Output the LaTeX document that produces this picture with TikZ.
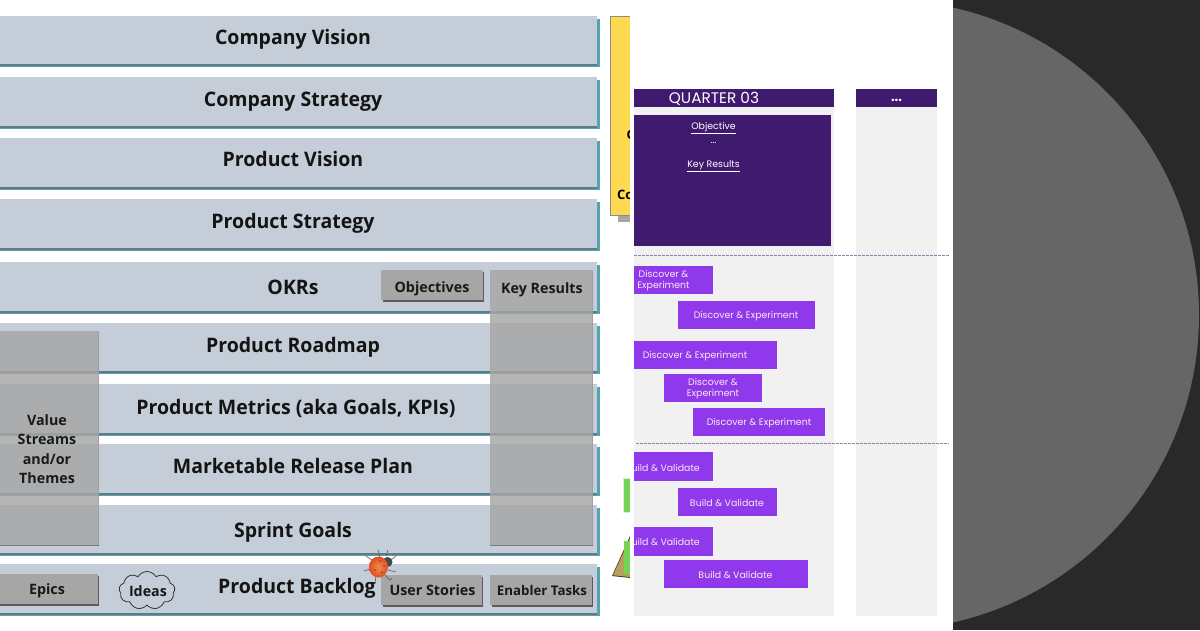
\documentclass[tikz,border=0pt]{standalone}
\usepackage{fontspec}
\setmainfont{Open Sans}
\newfontfamily\barfont[FakeStretch=0.975]{Open Sans}
\newfontfamily\panelfont{Poppins}
\usetikzlibrary{shapes.symbols}
\definecolor{barfill}{HTML}{C5CED8}
\definecolor{barteal}{HTML}{55A3AE}
\definecolor{bardark}{HTML}{5F7C86}
\definecolor{greybox}{HTML}{A6A6A6}
\definecolor{greyshadow}{HTML}{5C5C5C}
\definecolor{darkpurple}{HTML}{3F1A6E}
\definecolor{brightpurple}{HTML}{9038EC}
\definecolor{panelgrey}{HTML}{F1F1F2}
\definecolor{stickyyellow}{HTML}{FFD94F}
\definecolor{greenbar}{HTML}{74D354}
\definecolor{tan}{HTML}{B59E5E}
\definecolor{bugred}{HTML}{E04E22}
\definecolor{bugorange}{HTML}{F58A45}
\tikzset{
  block/.style={inner sep=0pt,outer sep=0pt,draw=none},
  bartext/.style={font=\barfont\bfseries\fontsize{20}{24}\selectfont,text=black!92,inner sep=0pt,anchor=base},
  greytext/.style={font=\bfseries\fontsize{14.3}{19.3}\selectfont,text=black!90,inner sep=0pt,align=center},
  greylabel/.style={greytext,anchor=base},
  purpletext/.style={font=\panelfont\fontsize{9.4}{11}\selectfont,text=white!92!purple,inner sep=0pt,align=center},
  headtext/.style={font=\panelfont\fontsize{15.3}{17}\selectfont,text=white,inner sep=0pt},
  objtext/.style={font=\panelfont\fontsize{9.4}{11}\selectfont,text=white,inner sep=0pt},
  dashline/.style={draw=darkpurple!55,line width=0.5pt,dash pattern=on 2.5pt off 1.5pt},
  leg/.style={draw=black!60,line width=0.7pt,line cap=round}
}
% name, x1, y1, x2, y2, style
\newcommand{\rectnode}[6]{\node[block,#6,minimum width={(#4-#2)*1pt},minimum height={(#5-#3)*1pt}] (#1) at ({(#2+#4)/2},{(#3+#5)/2}) {};}
% name, top, bottom
\newcommand{\barrow}[3]{%
  \fill[barteal] (0,#3) rectangle (600,#3+3);
  \fill[barteal] (597,#2+3) rectangle (600,#3+3);
  \fill[bardark] (0,#3) rectangle (597,#3+1.5);
  \rectnode{#1}{0}{#2}{597}{#3}{fill=barfill}
}
% name, x1,y1,x2,y2
\newcommand{\greyshadowbox}[5]{%
  \fill[greyshadow] (#2+2,#3+2) rectangle (#4+1,#5+1.5);
  \rectnode{#1}{#2}{#3}{#4}{#5}{fill=greybox}
}
\begin{document}
\begin{tikzpicture}[x=1pt,y=-1pt]
\useasboundingbox (0,0) rectangle (1200,630);
\fill[white] (0,0) rectangle (1200,630);
% right dark region with big circle
\fill[black!84] (953,0) rectangle (1200,630);
\begin{scope}
  \clip (953,0) rectangle (1200,630);
  \fill[black!60] (884,315) circle[radius=315];
\end{scope}
% strips
\barrow{b1}{16}{64}
\barrow{b2}{77}{126}
\barrow{b3}{138}{187}
\barrow{b4}{199}{248}
\barrow{b5}{262}{311}
\barrow{b6}{323}{371}
\barrow{b7}{384}{433}
\barrow{b8}{444}{493}
\barrow{b9}{505}{553}
\barrow{b10}{564}{613}
\node[bartext] (t1) at (293,44.5) {Company Vision};
\node[bartext] (t2) at (293,106) {Company Strategy};
\node[bartext] (t3) at (293,166) {Product Vision};
\node[bartext] (t4) at (293,228) {Product Strategy};
\node[bartext] (t5) at (293,294.5) {OKRs};
\node[bartext] (t6) at (293,352.5) {Product Roadmap};
\node[bartext] (t7) at (296,414) {Product Metrics (aka Goals, KPIs)};
\node[bartext] (t8) at (293,473.5) {Marketable Release Plan};
\node[bartext] (t9) at (293,537) {Sprint Goals};
\node[bartext] (t10) at (297,593.7) {Product Backlog};
% grey boxes
\greyshadowbox{obj}{381}{270}{483}{300}
\node[greylabel] (objt) at (432,292) {Objectives};
\fill[greyshadow] (0,604) rectangle (3,605.5);
\greyshadowbox{epics}{0}{574}{98}{604}
\node[greylabel] (epicst) at (47,594.3) {Epics};
\greyshadowbox{stories}{381}{575}{482}{605}
\node[greylabel] (storiest) at (432.5,595.7) {User Stories};
\greyshadowbox{enabler}{490}{575}{592}{605}
\node[greylabel,font=\bfseries\fontsize{13.3}{16}\selectfont] (enablert) at (542,595.7) {Enabler Tasks};
% translucent columns
\fill[greyshadow,opacity=.7] (98,331) rectangle (99.2,545.8);
\fill[greyshadow,opacity=.7] (0,545) rectangle (99.2,545.8);
\rectnode{vs}{0}{331}{98.5}{545}{fill=greybox,fill opacity=.83}
\node[greytext] (vst) at (47,449) {Value\\Streams\\and/or\\Themes};
\fill[greyshadow,opacity=.7] (592,271) rectangle (593,545.8);
\fill[greyshadow,opacity=.7] (490,545) rectangle (593,545.8);
\rectnode{kr}{490}{270}{592.5}{545}{fill=greybox,fill opacity=.83}
\node[greylabel] (krt) at (542,293) {Key Results};
% Ideas cloud
\node[cloud,draw=black!80,line width=0.8pt,fill=barfill,cloud puffs=9,cloud puff arc=120,aspect=1.5,minimum width=56pt,minimum height=38pt,inner sep=0pt] (cl) at (147,590.5) {};
\node[font=\bfseries\fontsize{14.3}{17}\selectfont,text=black!90,inner sep=0pt,anchor=base] (ideas) at (148,596) {Ideas};
% ladybug
\draw[leg] (372,560) -- (366,556);
\draw[leg] (370,569) -- (364,571);
\draw[leg] (376,576) -- (375,584);
\draw[leg] (385,575) -- (390,580) -- (392,578);
\draw[leg] (388,570) -- (396,572);
\draw[leg] (391,560) -- (396,556);
\draw[leg] (386,556) -- (388,550);
\draw[leg] (380,557) -- (378,550);
\fill[black!72] (387.5,562) circle[radius=5];
\shade[inner color=bugorange,outer color=bugred] (378.5,567) ellipse[x radius=9.5,y radius=10.5];
\fill[black!70] (380,561) circle[radius=0.9];
\fill[black!70] (375,570) circle[radius=0.9];
\fill[black!70] (382,572.5) circle[radius=0.9];
\fill[black!70] (384,566) circle[radius=0.9];
% sticky behind panel
\fill[greybox] (618,215) rectangle (640,222);
\rectnode{sticky}{610.5}{16.5}{640}{215}{fill=stickyyellow,draw=black!45,line width=0.8pt}
\node[font=\bfseries\fontsize{13}{15}\selectfont,text=black,inner sep=0pt,anchor=west] (stc) at (626.5,135) {C};
\node[font=\bfseries\fontsize{13}{15}\selectfont,text=black,inner sep=0pt,anchor=west] (stco) at (617,195) {Co};
% green tabs and triangle
\fill[white!70!greenbar] (623,478) rectangle (640,513);
\rectnode{g1}{624}{479}{640}{512}{fill=greenbar}
\fill[black!60!brown] (630,536) -- (612,576) -- (640,579) -- cycle;
\fill[tan] (630,538) -- (613,575.3) -- (640,578) -- cycle;
\rectnode{g2}{624}{541}{640}{574}{fill=greenbar}
% white panel
\fill[white] (630,0) rectangle (953,630);
% columns
\rectnode{col1}{634}{106}{834}{616}{fill=panelgrey}
\rectnode{col2}{856}{106}{937}{616}{fill=panelgrey}
\rectnode{h1}{634}{89}{834}{106.5}{fill=darkpurple}
\rectnode{h2}{856}{89}{937}{106.5}{fill=darkpurple}
\node[headtext] (h1t) at (714,98.5) {QUARTER 03};
\node[headtext,font=\panelfont\bfseries\fontsize{13}{15}\selectfont] (h2t) at (896.5,100) {...};
\rectnode{okr}{634}{115}{830.5}{246}{fill=darkpurple}
\node[objtext] (okr1) at (713.5,127.7) {\underline{Objective}};
\node[objtext] (okr2) at (713.5,142.5) {...};
\node[objtext] (okr3) at (713.5,166.2) {\underline{Key Results}};
\coordinate (d1a) at (634,255.5);
\coordinate (d1b) at (949,255.5);
\coordinate (d2a) at (636,443.5);
\coordinate (d2b) at (949,443.5);
\draw[dashline] (d1a) -- (d1b);
\draw[dashline] (d2a) -- (d2b);
% discover
\rectnode{p1}{634}{266}{713}{294}{fill=brightpurple}
\node[purpletext] (p1t) at (663.5,281) {Discover \&\\Experiment};
\rectnode{p2}{678}{301}{814.5}{329}{fill=brightpurple}
\node[purpletext] (p2t) at (746,316.5) {Discover \& Experiment};
\rectnode{p3}{634}{341}{776.5}{369}{fill=brightpurple}
\node[purpletext] (p3t) at (695,356.5) {Discover \& Experiment};
\rectnode{p4}{664}{374}{762}{402}{fill=brightpurple}
\node[purpletext] (p4t) at (713,388.5) {Discover \&\\Experiment};
\rectnode{p5}{693}{407.5}{825}{436}{fill=brightpurple}
\node[purpletext] (p5t) at (759,423.5) {Discover \& Experiment};
% build
\rectnode{q1}{634}{452}{713}{481}{fill=brightpurple}
\node[purpletext,anchor=east] (q1t) at (700,467.5) {uild \& Validate};
\rectnode{q2}{678}{488}{776.5}{516}{fill=brightpurple}
\node[purpletext] (q2t) at (727,502.5) {Build \& Validate};
\rectnode{q3}{634}{527}{713}{555.5}{fill=brightpurple}
\node[purpletext,anchor=east] (q3t) at (700,542) {uild \& Validate};
\rectnode{q4}{664}{559.5}{807.5}{588}{fill=brightpurple}
\node[purpletext] (q4t) at (735.5,574.5) {Build \& Validate};
\end{tikzpicture}
\end{document}
